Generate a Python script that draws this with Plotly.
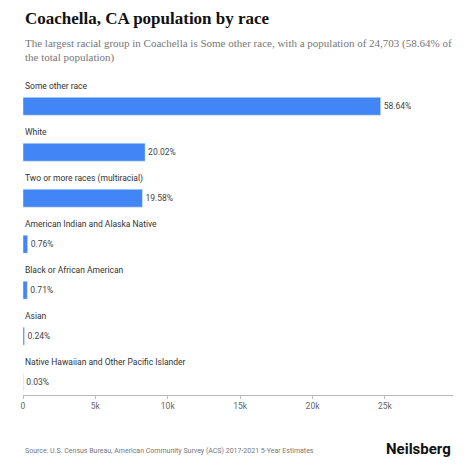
import plotly.graph_objects as go

categories = ["Some other race", "White", "Two or more races (multiracial)",
              "American Indian and Alaska Native", "Black or African American",
              "Asian", "Native Hawaiian and Other Pacific Islander"]
population = [24703, 8434, 8249, 320, 299, 101, 13]
percent_labels = ["58.64%", "20.02%", "19.58%", "0.76%", "0.71%", "0.24%", "0.03%"]

fig = go.Figure(go.Bar(
    x=population, y=categories, orientation="h",
    marker_color="#4285f4", width=0.39,
    text=percent_labels, textposition="outside", cliponaxis=False,
    textfont=dict(family="Roboto", size=8.5, color="#444"),
))

for cat in categories:
    fig.add_annotation(x=0, y=cat, xref="x", yref="y", text=cat, showarrow=False,
                       xanchor="left", yanchor="middle", yshift=20,
                       font=dict(family="Roboto", size=8.5, color="#333"))

fig.add_annotation(x=0, y=1.178, xref="paper", yref="paper", xanchor="left", yanchor="middle",
                   text="<b>Coachella, CA population by race</b>", showarrow=False,
                   font=dict(family="Liberation Serif", size=17, color="#111"))
fig.add_annotation(x=0, y=1.078, xref="paper", yref="paper", xanchor="left", yanchor="middle",
                   align="left", showarrow=False,
                   text="The largest racial group in Coachella is Some other race, with a population of 24,703 (58.64% of<br>the total population)",
                   font=dict(family="Liberation Serif", size=11, color="#777"))
fig.add_annotation(x=0, y=-0.175, xref="paper", yref="paper", xanchor="left", yanchor="middle",
                   text="Source: U.S. Census Bureau, American Community Survey (ACS) 2017-2021 5-Year Estimates",
                   showarrow=False, font=dict(family="Roboto", size=7, color="#777"))
fig.add_annotation(x=1, y=-0.17, xref="paper", yref="paper", xanchor="right", yanchor="middle",
                   text="<b>Neilsberg</b>", showarrow=False,
                   font=dict(family="Roboto", size=15, color="#111"))

fig.update_layout(
    width=474, height=474, margin=dict(l=23, r=21, t=75, b=79, autoexpand=False),
    plot_bgcolor="white", paper_bgcolor="white", showlegend=False,
    xaxis=dict(range=[0, 29700], tickvals=[0, 5000, 10000, 15000, 20000, 25000],
               ticktext=["0", "5k", "10k", "15k", "20k", "25k"],
               showgrid=False, zeroline=False, showline=True, linecolor="#bbb",
               ticks="outside", ticklen=3, tickcolor="#bbb",
               tickfont=dict(family="Roboto", size=8.5, color="#666")),
    yaxis=dict(categoryorder="array", categoryarray=categories, range=[6.28, -0.68],
               showticklabels=False, showgrid=False, zeroline=False),
)

# drop the browser's default page margin so the figure fills the window
fig.write_html("out.html", config={"displayModeBar": False},
               post_script="document.body.style.margin='0';")
